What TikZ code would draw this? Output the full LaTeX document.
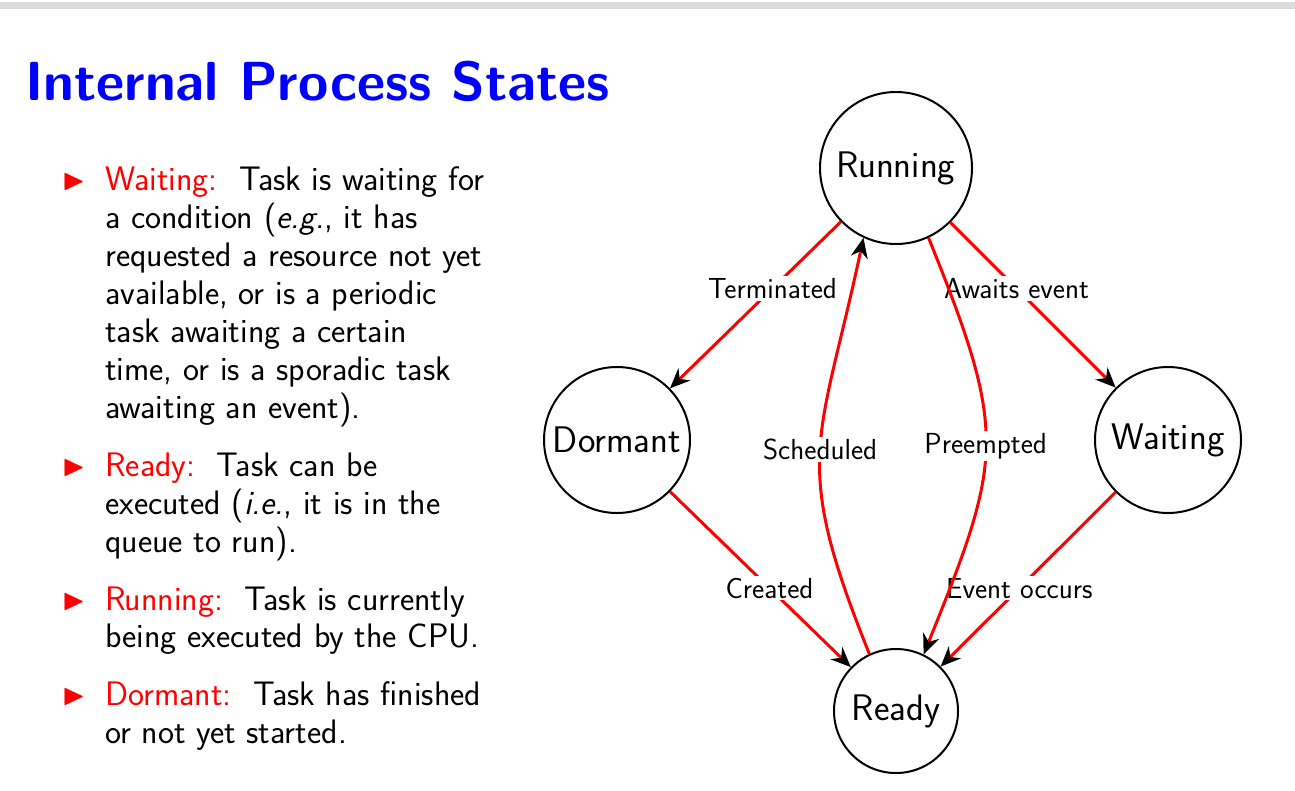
\documentclass[tikz,border=0pt]{standalone}
\usepackage{amssymb}
\usetikzlibrary{arrows.meta}
\renewcommand\familydefault{\sfdefault}
\begin{document}
\begin{tikzpicture}[x=1pt,y=1pt,
  st/.style={circle,draw=black,line width=2pt,inner sep=0pt,font=\fontsize{37}{44}\selectfont},
  ed/.style={draw=red,line width=3pt,-{Stealth[black,length=20pt,width=17pt]}},
  lb/.style={fill=white,inner sep=2pt,font=\fontsize{29}{34}\selectfont},
  tx/.style={anchor=base west,inner sep=0pt,font=\fontsize{34}{40}\selectfont},
  bu/.style={anchor=base west,inner sep=0pt,text=red,font=\fontsize{30}{34}\selectfont}]
\useasboundingbox (0,0) rectangle (1295,-790);
\fill[gray!28] (0,-2) rectangle (1295,-9);
\node[anchor=base west,inner sep=0pt,text=blue,font=\fontsize{55}{62}\selectfont\bfseries] (title) at (25,-100) {Internal Process States};
% bullets
\node[bu] (b1) at (62,-189) {$\blacktriangleright$};
\node[bu] (b2) at (62,-475) {$\blacktriangleright$};
\node[bu] (b3) at (62,-609) {$\blacktriangleright$};
\node[bu] (b4) at (62,-704) {$\blacktriangleright$};
\node[tx] (l1) at (105,-190) {\textcolor{red}{Waiting:}\ \ Task is waiting for};
\node[tx] (l2) at (105,-228) {a condition (\textit{e.g.}, it has};
\node[tx] (l3) at (105,-266) {requested a resource not yet};
\node[tx] (l4) at (105,-304) {available, or is a periodic};
\node[tx] (l5) at (105,-342) {task awaiting a certain};
\node[tx] (l6) at (105,-380) {time, or is a sporadic task};
\node[tx] (l7) at (105,-418) {awaiting an event).};
\node[tx] (l8) at (105,-476) {\textcolor{red}{Ready:}\ \ Task can be};
\node[tx] (l9) at (105,-514) {executed (\textit{i.e.}, it is in the};
\node[tx] (l10) at (105,-552) {queue to run).};
\node[tx] (l11) at (105,-610) {\textcolor{red}{Running:}\ \ Task is currently};
\node[tx] (l12) at (105,-647) {being executed by the CPU.};
\node[tx] (l13) at (105,-705) {\textcolor{red}{Dormant:}\ \ Task has finished};
\node[tx] (l14) at (105,-743) {or not yet started.};
% states
\node[st,minimum size=152pt] (run) at (896,-168) {Running};
\node[st,minimum size=146pt] (dor) at (617,-440) {Dormant};
\node[st,minimum size=146pt] (wai) at (1168,-440) {Waiting};
\node[st,minimum size=124pt] (rdy) at (896,-711) {Ready};
% edges
\draw[ed] (run) -- node[lb,pos=0.4]{Terminated} (dor);
\draw[ed] (run) -- node[lb,pos=0.4]{Awaits event} (wai);
\draw[ed] (dor) -- node[lb,pos=0.55]{Created} (rdy);
\draw[ed] (wai) -- node[lb,pos=0.55]{Event occurs} (rdy);
\draw[ed] (rdy.115) to[out=112,in=258,looseness=1.3] node[lb,pos=0.5]{Scheduled} (run.245);
\draw[ed] (run.295) to[out=-68,in=68,looseness=1.3] node[lb,pos=0.5]{Preempted} (rdy.64);
\end{tikzpicture}
\end{document}
